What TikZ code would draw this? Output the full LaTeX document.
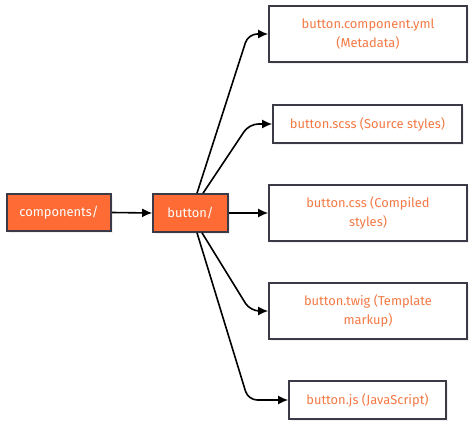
\documentclass[tikz,border=0pt]{standalone}
\usepackage{fontspec}
\setmainfont{Fira Sans}
\usetikzlibrary{arrows.meta,shadows}
\definecolor{boxorange}{HTML}{FF6B35}
\definecolor{txtorange}{HTML}{F47A45}
\definecolor{edgegray}{HTML}{3B3B48}
\tikzset{
  base/.style={draw=edgegray, line width=1.6pt, align=center, inner sep=0pt,
    font=\fontsize{12.9}{19}\selectfont,
    drop shadow={opacity=0.12, shadow xshift=2pt, shadow yshift=-2pt}},
  dirbox/.style={base, fill=boxorange, text=white},
  filebox/.style={base, fill=white, text=txtorange},
  arr/.style={-{Latex[length=10pt,width=9pt]}, line width=1.6pt, black}
}
\begin{document}
\begin{tikzpicture}[x=1pt,y=-1pt]
\useasboundingbox (0,0) rectangle (474,427);
\node[dirbox, minimum width=104pt, minimum height=37pt] (comp) at (59,212.5) {components/};
\node[dirbox, minimum width=75pt, minimum height=38pt] (btn) at (190.5,213) {button/};
\node[filebox, minimum width=198pt, minimum height=56pt] (yml) at (368,34) {button.component.yml\\(Metadata)};
\node[filebox, minimum width=189pt, minimum height=38pt] (scss) at (367.5,124) {button.scss (Source styles)};
\node[filebox, minimum width=198pt, minimum height=56pt] (css) at (368,213) {button.css (Compiled\\styles)};
\node[filebox, minimum width=198pt, minimum height=56pt] (twig) at (368,311) {button.twig (Template\\markup)};
\node[filebox, minimum width=157pt, minimum height=38pt] (js) at (367.5,400) {button.js (JavaScript)};
\draw[arr] (comp.east) -- (btn.west);
\draw[arr] (btn.east) -- (css.west);
\draw[arr, rounded corners=9pt] ([xshift=6.5pt]btn.north) -- ([xshift=-20pt]yml.west) -- (yml.west);
\draw[arr, rounded corners=9pt] ([xshift=12.5pt]btn.north) -- ([xshift=-23pt]scss.west) -- (scss.west);
\draw[arr, rounded corners=9pt] ([xshift=11.5pt]btn.south) -- ([xshift=-18pt]twig.west) -- (twig.west);
\draw[arr, rounded corners=9pt] ([xshift=6.5pt]btn.south) -- ([xshift=-40pt]js.west) -- (js.west);
\end{tikzpicture}
\end{document}
